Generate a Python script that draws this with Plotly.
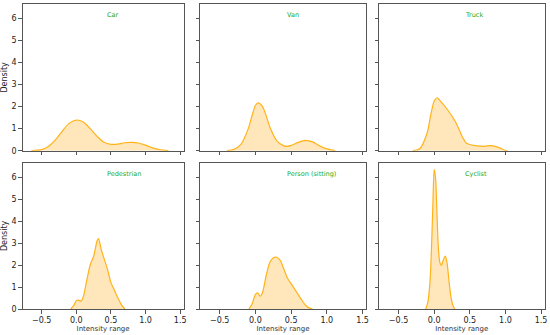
import plotly.graph_objects as go

titles = ["Car", "Van", "Truck", "Pedestrian", "Person (sitting)", "Cyclist"]

car_x = [-0.65, -0.5, -0.4, -0.3, -0.2, -0.1, 0.0, 0.1, 0.2, 0.3, 0.4, 0.5, 0.6, 0.7, 0.8, 0.9, 1.0, 1.1, 1.2, 1.33]
car_y = [0.0, 0.05, 0.2, 0.5, 0.9, 1.25, 1.39, 1.3, 1.0, 0.65, 0.38, 0.29, 0.3, 0.36, 0.38, 0.35, 0.25, 0.13, 0.05, 0.0]

van_x = [-0.4, -0.3, -0.2, -0.1, -0.05, 0.0, 0.04, 0.1, 0.15, 0.2, 0.3, 0.4, 0.45, 0.5, 0.6, 0.7, 0.8, 0.9, 1.0, 1.12]
van_y = [0.0, 0.06, 0.3, 1.0, 1.55, 2.05, 2.17, 2.0, 1.6, 1.1, 0.45, 0.22, 0.2, 0.24, 0.38, 0.47, 0.4, 0.22, 0.08, 0.0]

truck_x = [-0.3, -0.2, -0.1, -0.05, 0.0, 0.04, 0.1, 0.2, 0.3, 0.4, 0.45, 0.5, 0.6, 0.7, 0.8, 0.9, 1.0, 1.03]
truck_y = [0.0, 0.1, 0.8, 1.6, 2.25, 2.4, 2.2, 1.8, 1.3, 0.6, 0.35, 0.28, 0.22, 0.2, 0.23, 0.15, 0.01, 0.0]

ped_x = [-0.08, -0.03, 0.0, 0.03, 0.07, 0.1, 0.15, 0.2, 0.25, 0.3, 0.32, 0.36, 0.4, 0.45, 0.5, 0.55, 0.6, 0.65, 0.7]
ped_y = [0.0, 0.2, 0.38, 0.4, 0.36, 0.55, 1.3, 2.0, 2.4, 3.1, 3.2, 2.7, 2.3, 1.8, 1.2, 0.85, 0.5, 0.2, 0.0]

sit_x = [-0.09, -0.05, 0.0, 0.03, 0.07, 0.1, 0.15, 0.2, 0.25, 0.3, 0.35, 0.4, 0.45, 0.5, 0.55, 0.6, 0.65, 0.7, 0.75, 0.8]
sit_y = [0.0, 0.2, 0.65, 0.73, 0.58, 0.75, 1.5, 2.1, 2.33, 2.35, 2.2, 1.8, 1.4, 1.15, 0.9, 0.65, 0.4, 0.18, 0.05, 0.0]

cyc_x = [-0.12, -0.09, -0.06, -0.04, -0.02, 0.0, 0.02, 0.04, 0.06, 0.08, 0.1, 0.13, 0.155, 0.18, 0.21, 0.24, 0.27, 0.29]
cyc_y = [0.0, 0.3, 1.2, 2.6, 4.6, 6.35, 5.9, 4.2, 2.7, 2.1, 1.98, 2.25, 2.4, 2.1, 1.2, 0.45, 0.1, 0.0]

series = [(car_x, car_y), (van_x, van_y), (truck_x, truck_y),
          (ped_x, ped_y), (sit_x, sit_y), (cyc_x, cyc_y)]

x_ticks = [-0.5, 0.0, 0.5, 1.0, 1.5]
x_tick_labels = ["\u22120.5", "0.0", "0.5", "1.0", "1.5"]
y_ticks = [0, 1, 2, 3, 4, 5, 6]

W, H = 550, 335
col_px = [(22.7, 183.5), (200.0, 366.0), (379.0, 544.5)]
row_px = [(4.0, 150.7), (162.7, 309.0)]

fig = go.Figure()
frame = "#555555"
for i, (xs, ys) in enumerate(series):
    r, c = divmod(i, 3)
    n = i + 1
    xa = "x" if n == 1 else f"x{n}"
    ya = "y" if n == 1 else f"y{n}"
    fig.add_trace(go.Scatter(
        x=xs, y=ys, mode="lines", xaxis=xa, yaxis=ya,
        line=dict(color="#FFB31A", width=1.2, shape="spline", smoothing=0.8),
        fill="tozeroy", fillcolor="rgba(255,205,120,0.5)", showlegend=False,
        hoverinfo="skip"))
    x0, x1 = col_px[c]
    y0, y1 = row_px[r]
    xkey = "xaxis" if n == 1 else f"xaxis{n}"
    ykey = "yaxis" if n == 1 else f"yaxis{n}"
    fig.update_layout(**{
        xkey: dict(domain=[x0 / W, x1 / W], anchor=ya, range=[-0.775, 1.548],
                   tickvals=x_ticks, ticktext=x_tick_labels, automargin=False,
                   showticklabels=(r == 1), ticks="outside", ticklen=3.5,
                   tickcolor=frame, showline=True, mirror=True, linecolor=frame,
                   linewidth=1, showgrid=False, zeroline=False,
                   tickfont=dict(size=8, family="DejaVu Sans", color="#222"),
                   title=dict(text="Intensity range" if r == 1 else "",
                              font=dict(size=7, family="DejaVu Sans", color="#333"),
                              standoff=2)),
        ykey: dict(domain=[1 - y1 / H, 1 - y0 / H], anchor=xa, range=[0, 6.65],
                   tickvals=y_ticks, showticklabels=(c == 0), ticks="outside",
                   automargin=False,
                   ticklen=3.5, tickcolor=frame, showline=True, mirror=True,
                   linecolor=frame, linewidth=1, showgrid=False, zeroline=False,
                   tickfont=dict(size=8, family="DejaVu Sans", color="#222"),
                   title=dict(text="Density" if c == 0 else "",
                              font=dict(size=8, family="DejaVu Sans", color="#222"),
                              standoff=2)),
    })
    fig.add_annotation(text=titles[i], xref=f"{xa} domain", yref=f"{ya} domain",
                       x=0.51, y=0.925, xanchor="left", yanchor="middle",
                       showarrow=False,
                       font=dict(size=6.5, family="DejaVu Sans", color="#22AA22"))

fig.update_layout(width=W, height=H, margin=dict(l=0, r=0, t=0, b=0),
                  plot_bgcolor="white", paper_bgcolor="white")
fig.write_html("out.html", config={"displayModeBar": False},
               post_script="document.body.style.margin='0px';document.body.style.overflow='hidden';")
